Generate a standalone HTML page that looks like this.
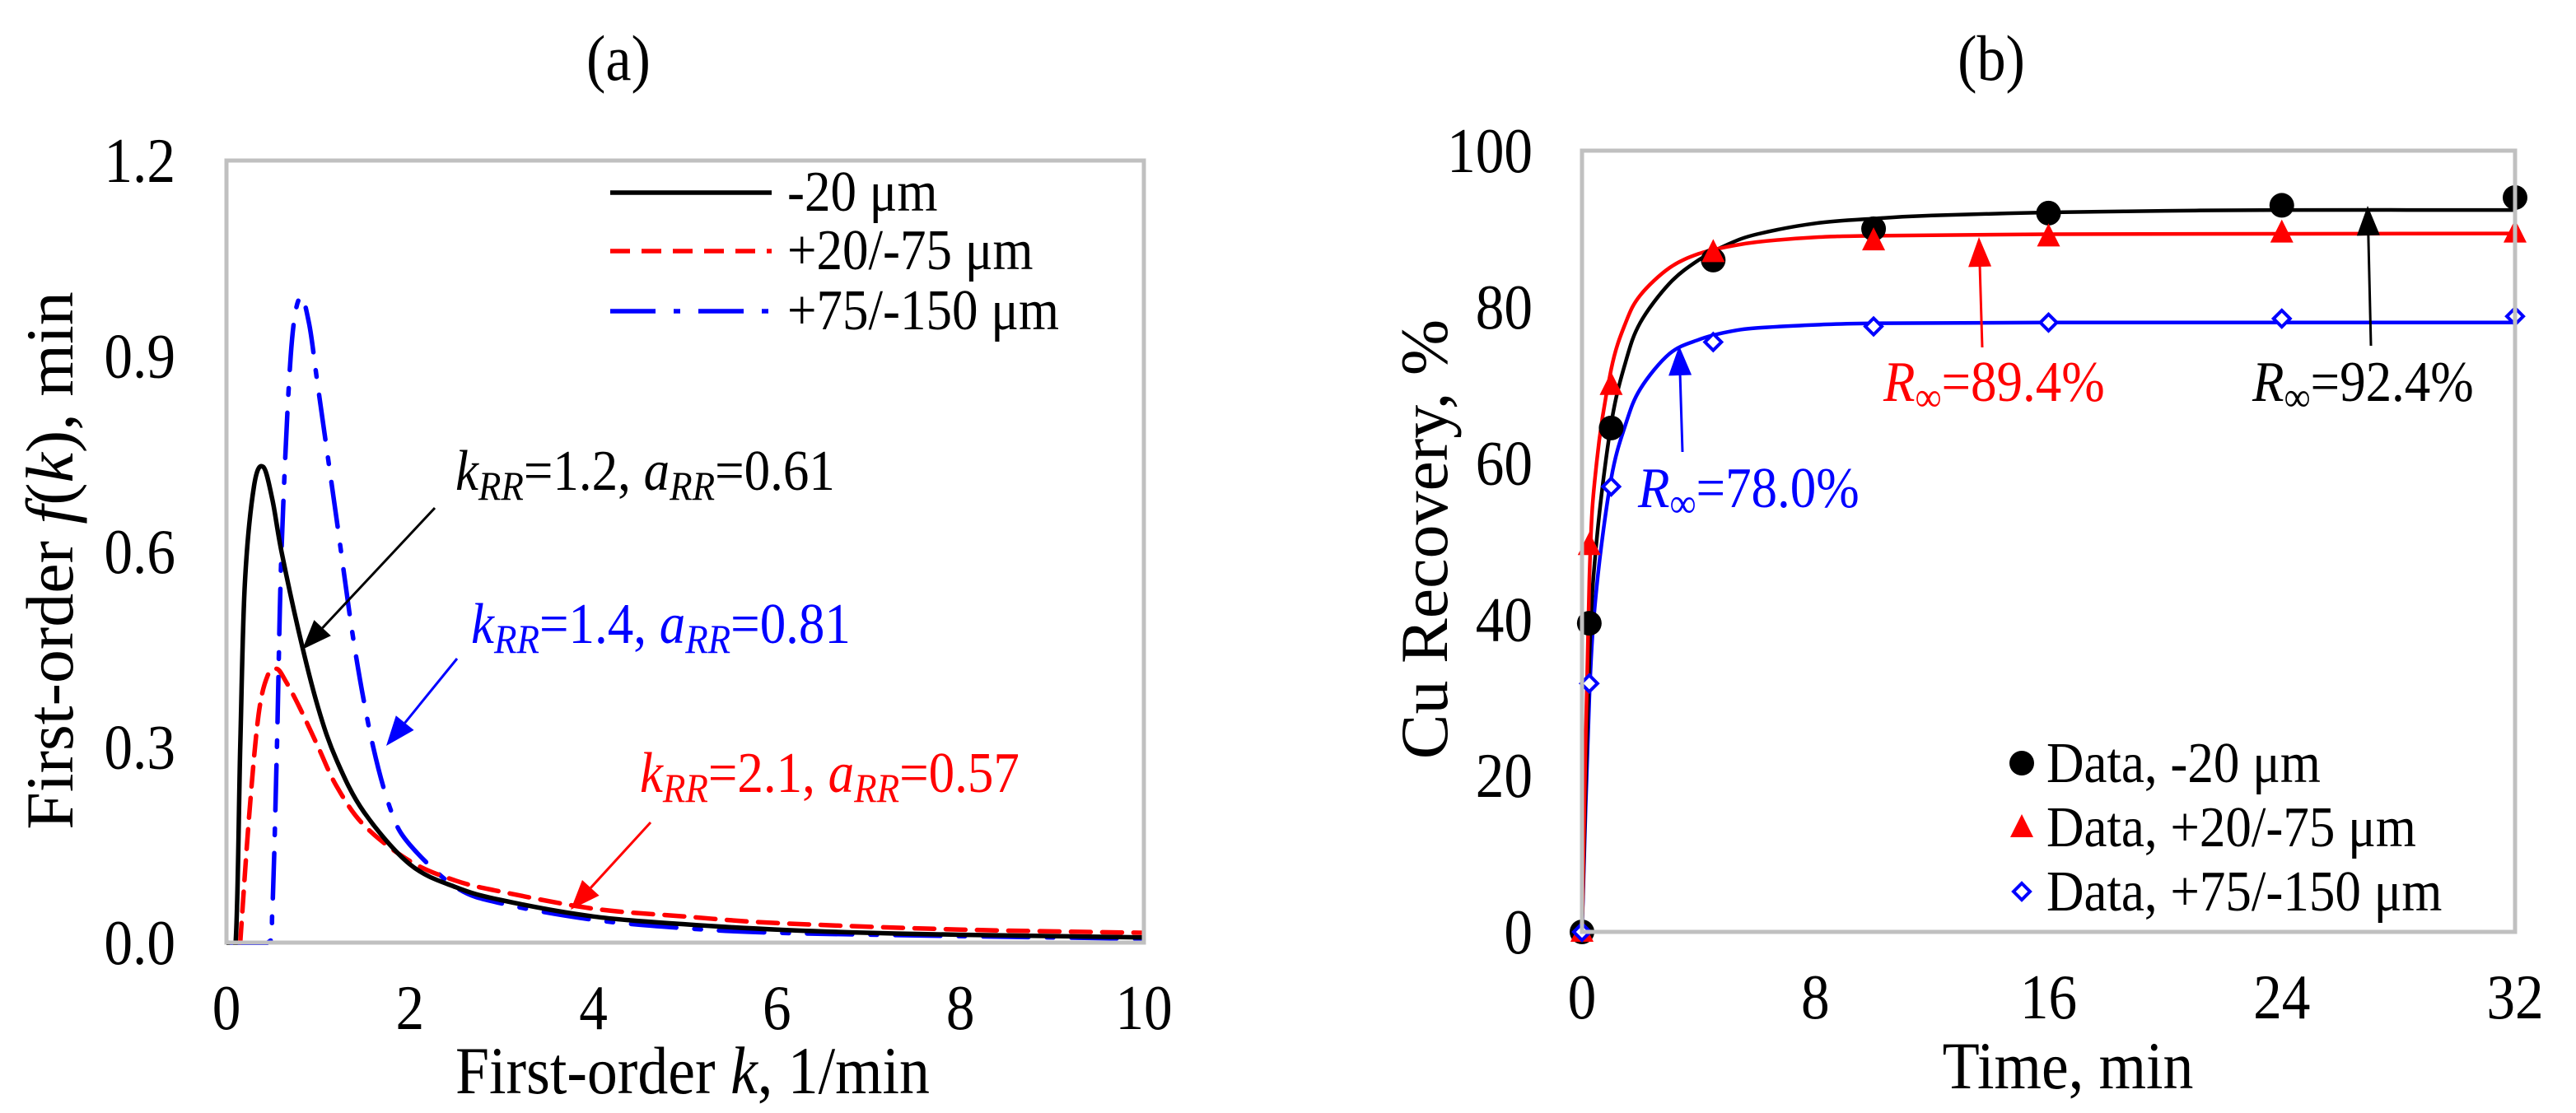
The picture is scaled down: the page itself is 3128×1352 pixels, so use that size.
<!DOCTYPE html>
<html><head><meta charset="utf-8"><style>
html,body{margin:0;padding:0;background:#fff;}
svg{display:block;font-family:"Liberation Serif",serif;}
</style></head><body>
<svg id="fig" width="3128" height="1352" viewBox="0 0 3128 1352" xmlns="http://www.w3.org/2000/svg">
<g id="chartA"></g>
<g id="chartB"></g>
</svg>
<script>
// ---- Chart (a) data ----
const aXTicks = [0, 2, 4, 6, 8, 10];
const aYTicks = ["0.0", "0.3", "0.6", "0.9", "1.2"];
const aBlackK = [0, 0.1, 0.15, 0.2, 0.3, 0.4, 0.5, 0.6, 0.8, 1.0, 1.2, 1.5, 2, 2.5, 3, 4, 5, 6, 7, 8, 10];
const aBlackF = [0, 0, 0.3, 0.55, 0.7, 0.73, 0.68, 0.6, 0.47, 0.36, 0.28, 0.2, 0.12, 0.085, 0.065, 0.04, 0.028, 0.02, 0.015, 0.012, 0.008];
const aRedK = [0.15, 0.25, 0.35, 0.45, 0.55, 0.65, 0.8, 1.0, 1.2, 1.5, 2, 2.5, 3, 4, 5, 6, 8, 10];
const aRedF = [0, 0.2, 0.35, 0.41, 0.42, 0.4, 0.36, 0.3, 0.24, 0.18, 0.125, 0.095, 0.078, 0.052, 0.04, 0.03, 0.02, 0.015];
const aBlueK = [0, 0.45, 0.5, 0.55, 0.6, 0.7, 0.8, 0.9, 1.0, 1.2, 1.4, 1.6, 1.8, 2, 2.5, 3, 4, 5, 6, 8, 10];
const aBlueF = [0, 0, 0.05, 0.3, 0.6, 0.9, 0.99, 0.95, 0.85, 0.65, 0.45, 0.3, 0.2, 0.15, 0.085, 0.06, 0.035, 0.022, 0.015, 0.01, 0.006];
// ---- Chart (b) data ----
const bXTicks = [0, 8, 16, 24, 32];
const bYTicks = [0, 20, 40, 60, 80, 100];
const bTime = [0, 0.25, 1, 4.5, 10, 16, 24, 32];
const bBlackData = [0, 39.5, 64.5, 86, 90, 92, 93, 94];
const bRedData = [0, 49.5, 70, 87, 88.5, 89, 89.5, 89.5];
const bBlueData = [0, 31.8, 57, 75.5, 77.5, 78, 78.5, 78.8];
const bBlackFitT = [0, 0.25, 0.5, 1, 1.5, 2, 3, 4, 5, 6, 8, 10, 12, 16, 20, 24, 32];
const bBlackFitR = [0, 35, 50, 65, 73, 78, 83, 86, 88, 89.3, 90.7, 91.3, 91.7, 92.1, 92.3, 92.4, 92.4];
const bRedFitT = [0, 0.25, 0.5, 1, 1.5, 2, 3, 4, 5, 6, 8, 10, 16, 32];
const bRedFitR = [0, 45, 60, 72, 78, 81.5, 85, 86.8, 87.7, 88.3, 88.9, 89.1, 89.3, 89.4];
const bBlueFitT = [0, 0.25, 0.5, 1, 1.5, 2, 3, 4, 5, 6, 8, 10, 16, 32];
const bBlueFitR = [0, 30, 44, 58, 65, 69.5, 74, 75.8, 76.8, 77.3, 77.7, 77.9, 78, 78];

const NS = "http://www.w3.org/2000/svg";
const SX = 0.9;
function mk(parent, tag, attrs, text) {
  const e = document.createElementNS(NS, tag);
  for (const k in attrs) e.setAttribute(k, attrs[k]);
  if (text !== undefined) e.textContent = text;
  parent.appendChild(e);
  return e;
}
// horizontally condensed text (reference glyphs are narrow)
function txt(parent, x, y, size, attrs, text) {
  const a = Object.assign({x: (x / SX).toFixed(1), y: y, "font-size": size, transform: "scale(" + SX + ",1)"}, attrs || {});
  return mk(parent, "text", a, text);
}
function smoothPath(pts) {
  let d = "M" + pts[0][0].toFixed(1) + "," + pts[0][1].toFixed(1);
  for (let i = 0; i < pts.length - 1; i++) {
    const p0 = pts[i - 1] || pts[i], p1 = pts[i], p2 = pts[i + 1], p3 = pts[i + 2] || p2;
    const c1x = p1[0] + (p2[0] - p0[0]) / 6, c1y = p1[1] + (p2[1] - p0[1]) / 6;
    const c2x = p2[0] - (p3[0] - p1[0]) / 6, c2y = p2[1] - (p3[1] - p1[1]) / 6;
    d += " C" + c1x.toFixed(1) + "," + c1y.toFixed(1) + " " + c2x.toFixed(1) + "," + c2y.toFixed(1) + " " + p2[0].toFixed(1) + "," + p2[1].toFixed(1);
  }
  return d;
}
function arrow(g, x1, y1, x2, y2, color, name) {
  const a = Math.atan2(y2 - y1, x2 - x1), L = 36, W = 14;
  const bx = x2 - L * Math.cos(a), by = y2 - L * Math.sin(a);
  const ln = mk(g, "line", {x1: x1, y1: y1, x2: bx, y2: by, stroke: color, "stroke-width": 3});
  
  
  const px = -Math.sin(a) * W, py = Math.cos(a) * W;
  const hd = mk(g, "polygon", {points: x2 + "," + y2 + " " + (bx + px) + "," + (by + py) + " " + (bx - px) + "," + (by - py), fill: color});
  
  
}
function richText(g, x, y, color, parts, name) {
  const t = txt(g, x, y, 70, {fill: color});
  
  
  parts.forEach(p => { mk(t, "tspan", p.attrs || {}, p.t); });
  return t;
}

// ================= Chart (a) =================
(function () {
  const g = document.getElementById("chartA");
  const L = 275, R = 1389, T = 195, B = 1145;
  const xs = v => L + (v - 0) / 10 * (R - L);
  const ys = v => B - v / 1.2 * (B - T);
  const title = txt(g, 751, 97, 78, {"text-anchor": "middle"}, "(a)");
  
  
  aYTicks.forEach(t => {
    const e = txt(g, 213, ys(parseFloat(t)) + 26, 77, {"text-anchor": "end"}, t);
    
    
  });
  aXTicks.forEach(t => {
    const e = txt(g, xs(t), 1250, 77, {"text-anchor": "middle"}, String(t));
    
    
  });
  const xt = txt(g, 841, 1328, 82, {"text-anchor": "middle"});
  
  
  mk(xt, "tspan", {}, "First-order ");
  mk(xt, "tspan", {"font-style": "italic"}, "k");
  mk(xt, "tspan", {}, ", 1/min");
  const yt = mk(g, "text", {x: 0, y: 0, "font-size": 82, "text-anchor": "middle", transform: "translate(88,681) rotate(-90)"});
  
  
  mk(yt, "tspan", {}, "First-order ");
  mk(yt, "tspan", {"font-style": "italic"}, "f");
  mk(yt, "tspan", {}, "(");
  mk(yt, "tspan", {"font-style": "italic"}, "k");
  mk(yt, "tspan", {}, "), min");

  const clip = mk(g, "clipPath", {id: "clipA"});
  mk(clip, "rect", {x: L, y: T - 5, width: R - L, height: B - T + 8});
  const series = [
    {k: aBlueK, f: aBlueF, c: "#0000ff", dash: "55 22 8 22", name: "curve-75-150um"},
    {k: aRedK, f: aRedF, c: "#ff0000", dash: "24 14", name: "curve-20-75um"},
    {k: aBlackK, f: aBlackF, c: "#000000", dash: "", name: "curve-minus20um"}
  ];
  series.forEach(s => {
    const pts = s.k.map((k, i) => [xs(k), ys(s.f[i])]);
    const p = mk(g, "path", {d: smoothPath(pts), fill: "none", stroke: s.c, "stroke-width": 5.5, "stroke-dasharray": s.dash, "clip-path": "url(#clipA)", "stroke-linecap": "round"});
    
    
  });
  const box = mk(g, "rect", {x: L, y: T, width: R - L, height: B - T, fill: "none", stroke: "#c0c0c0", "stroke-width": 5});
  
  
  const leg = [
    {y: 234, c: "#000", dash: "", t: "-20 μm"},
    {y: 305, c: "#ff0000", dash: "24 14", t: "+20/-75 μm"},
    {y: 378, c: "#0000ff", dash: "55 22 8 22", t: "+75/-150 μm"}
  ];
  leg.forEach(l => {
    const ln = mk(g, "line", {x1: 741, y1: l.y, x2: 937, y2: l.y, stroke: l.c, "stroke-width": 5.5, "stroke-dasharray": l.dash});
    
    
    const tx = txt(g, 956, l.y + 22, 70, {}, l.t);
    
    
  });
  const sub = {"font-size": 50, dy: 12, "font-style": "italic"};
  function ann(x, y, c, kv, av, name) {
    richText(g, x, y, c, [
      {t: "k", attrs: {"font-style": "italic"}}, {t: "RR", attrs: sub},
      {t: "=" + kv + ", ", attrs: {dy: -12}},
      {t: "a", attrs: {"font-style": "italic"}}, {t: "RR", attrs: sub},
      {t: "=" + av, attrs: {dy: -12}}
    ], name);
  }
  ann(553, 595, "#000", "1.2", "0.61", "annotation-black");
  arrow(g, 528, 617, 367, 789, "#000", "arrow-black");
  ann(572, 781, "#0000ff", "1.4", "0.81", "annotation-blue");
  arrow(g, 555, 800, 469, 906, "#0000ff", "arrow-blue");
  ann(777, 962, "#ff0000", "2.1", "0.57", "annotation-red");
  arrow(g, 790, 999, 693, 1105, "#ff0000", "arrow-red");
})();

// ================= Chart (b) =================
(function () {
  const g = document.getElementById("chartB");
  const L = 1921, R = 3054, T = 183, B = 1132;
  const xs = v => L + v / 32 * (R - L);
  const ys = v => B - v / 100 * (B - T);
  const title = txt(g, 2418, 97, 78, {"text-anchor": "middle"}, "(b)");
  
  
  bYTicks.forEach(t => {
    const e = txt(g, 1861, ys(t) + 26, 77, {"text-anchor": "end"}, String(t));
    
    
  });
  bXTicks.forEach(t => {
    const e = txt(g, xs(t), 1237, 77, {"text-anchor": "middle"}, String(t));
    
    
  });
  const xt = txt(g, 2511, 1322, 82, {"text-anchor": "middle"}, "Time, min");
  
  
  const yt = mk(g, "text", {x: 0, y: 0, "font-size": 82, "text-anchor": "middle", transform: "translate(1757,655) rotate(-90)"}, "Cu Recovery, %");
  
  

  const fits = [
    {t: bBlueFitT, r: bBlueFitR, c: "#0000ff", name: "fit-75-150um"},
    {t: bBlackFitT, r: bBlackFitR, c: "#000", name: "fit-minus20um"},
    {t: bRedFitT, r: bRedFitR, c: "#ff0000", name: "fit-20-75um"}
  ];
  fits.forEach(s => {
    const pts = s.t.map((t, i) => [xs(t), ys(s.r[i])]);
    const p = mk(g, "path", {d: smoothPath(pts), fill: "none", stroke: s.c, "stroke-width": 4.5});
    
    
  });
  function circle(x, y) { return mk(g, "circle", {cx: x, cy: y, r: 15, fill: "#000"}); }
  function tri(x, y) { return mk(g, "polygon", {points: x + "," + (y - 16) + " " + (x + 14) + "," + (y + 12) + " " + (x - 14) + "," + (y + 12), fill: "#ff0000"}); }
  function dia(x, y) { return mk(g, "polygon", {points: x + "," + (y - 10) + " " + (x + 10) + "," + y + " " + x + "," + (y + 10) + " " + (x - 10) + "," + y, fill: "#fff", stroke: "#0000ff", "stroke-width": 4}); }
  bTime.forEach((t, i) => {
    const c = circle(xs(t), ys(bBlackData[i]));
    
    
  });
  bTime.forEach((t, i) => {
    const c = tri(xs(t), ys(bRedData[i]));
    
    
  });
  bTime.forEach((t, i) => {
    const c = dia(xs(t), ys(bBlueData[i]));
    
    
  });
  const box = mk(g, "rect", {x: L, y: T, width: R - L, height: B - T, fill: "none", stroke: "#c0c0c0", "stroke-width": 5});
  
  
  const lm1 = circle(2455, 927);  
  const lm2 = tri(2455, 1005);  
  const lm3 = dia(2455, 1083);  
  [["Data, -20 μm", 927], ["Data, +20/-75 μm", 1005], ["Data, +75/-150 μm", 1083]].forEach(a => {
    const tx = txt(g, 2485, a[1] + 23, 70, {}, a[0]);
    
    
  });
  const sub = {"font-size": 50, dy: 12};
  function rinf(x, y, c, v, name) {
    richText(g, x, y, c, [{t: "R", attrs: {"font-style": "italic"}}, {t: "∞", attrs: sub}, {t: "=" + v, attrs: {dy: -12}}], name);
  }
  rinf(2287, 487, "#ff0000", "89.4%", "annotation-red");
  arrow(g, 2407, 422, 2403, 288, "#ff0000", "arrow-red");
  rinf(2735, 487, "#000", "92.4%", "annotation-black");
  arrow(g, 2879, 420, 2875, 250, "#000", "arrow-black");
  rinf(1989, 616, "#0000ff", "78.0%", "annotation-blue");
  arrow(g, 2043, 549, 2039, 420, "#0000ff", "arrow-blue");
})();
</script>
</body></html>
